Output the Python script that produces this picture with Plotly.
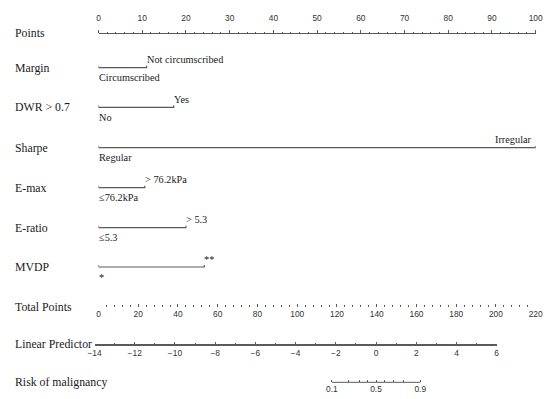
import math
import plotly.graph_objects as go

# ---------------- data ----------------
row_labels = ["Points", "Margin", "DWR > 0.7", "Sharpe", "E-max", "E-ratio", "MVDP",
              "Total Points", "Linear Predictor", "Risk of malignancy"]
variables = ["Margin", "DWR > 0.7", "Sharpe", "E-max", "E-ratio", "MVDP"]
level_low = ["Circumscribed", "No", "Regular", "≤76.2kPa", "≤5.3", "*"]
level_high = ["Not circumscribed", "Yes", "Irregular", "> 76.2kPa", "> 5.3", "**"]
points_low = [0, 0, 0, 0, 0, 0]
points_high = [11, 17.2, 100, 10.6, 20, 24.2]

points_range = [0, 100]
total_points_range = [0, 220]
lp_range = [-14, 6]
risk_ticks = [0.1, 0.2, 0.3, 0.4, 0.5, 0.6, 0.7, 0.8, 0.9]
risk_labels = ["0.1", "", "", "", "0.5", "", "", "", "0.9"]

# ---------------- layout geometry (pixels) ----------------
W, H = 550, 399
row_y = [33, 67.7, 107.3, 147.7, 187.7, 227.7, 267, 306.7, 344.3, 382.3]
pts_dom = [98.5 / W, 535.7 / W]
lp_dom = [94.5 / W, 496.7 / W]

LINE = "#5a5a5a"
TXT = "#1a1a1a"
SERIF = "Liberation Serif"
SANS = "Liberation Sans"

fig = go.Figure()

# variable lines on the Points scale
for i, v in enumerate(variables):
    y = row_y[i + 1]
    lo, hi = points_low[i], points_high[i]
    fig.add_trace(go.Scatter(
        x=[lo, lo, hi, hi], y=[y - 2, y, y, y - 2], mode="lines",
        line=dict(color=LINE, width=1.2), xaxis="x", yaxis="y",
        hoverinfo="skip", showlegend=False, cliponaxis=False))

# invisible anchors so the extra axes render
fig.add_trace(go.Scatter(x=[total_points_range[0]], y=[row_y[7]], mode="markers",
                         marker=dict(opacity=0), xaxis="x2", yaxis="y",
                         hoverinfo="skip", showlegend=False))
fig.add_trace(go.Scatter(x=[lp_range[0]], y=[row_y[8]], mode="markers",
                         marker=dict(opacity=0), xaxis="x3", yaxis="y",
                         hoverinfo="skip", showlegend=False))

# risk line on the linear-predictor scale (logit)
risk_logit = [math.log(p / (1 - p)) for p in risk_ticks]
fig.add_trace(go.Scatter(x=[risk_logit[0], risk_logit[-1]], y=[row_y[9], row_y[9]],
                         mode="lines", line=dict(color=LINE, width=1),
                         xaxis="x4", yaxis="y", hoverinfo="skip", showlegend=False))

tickfont = dict(family=SANS, size=8.4, color="#333333")

def pos(y):
    return 1 - y / H

common = dict(automargin=False, showgrid=False, zeroline=False, tickcolor=LINE,
              tickwidth=1, tickfont=tickfont, fixedrange=True)

fig.update_layout(
    width=W, height=H, margin=dict(l=0, r=0, t=0, b=0, autoexpand=False),
    paper_bgcolor="white", plot_bgcolor="rgba(0,0,0,0)",
    showlegend=False, hovermode=False,
    yaxis=dict(domain=[0, 1], range=[H, 0], visible=False, fixedrange=True,
               automargin=False),
    xaxis=dict(domain=pts_dom, range=points_range, anchor="free", position=pos(row_y[0]),
               side="top", showline=True, linecolor=LINE, linewidth=1,
               ticks="outside", ticklen=3, tickmode="linear", tick0=0, dtick=10,
               ticklabelstandoff=6,
               minor=dict(ticks="outside", dtick=2, ticklen=1.5, tickcolor=LINE,
                          showgrid=False), **common),
    xaxis2=dict(domain=pts_dom, range=total_points_range, anchor="free",
                position=pos(row_y[7]), side="bottom", showline=False,
                ticks="inside", ticklen=2.5, tickmode="linear", tick0=0, dtick=20,
                ticklabelstandoff=1,
                minor=dict(ticks="inside", dtick=4, ticklen=1.5, tickcolor=LINE,
                           showgrid=False), **common),
    xaxis3=dict(domain=lp_dom, range=lp_range, anchor="free", position=pos(row_y[8]),
                side="bottom", showline=True, linecolor=LINE, linewidth=1.2,
                ticks="inside", ticklen=2.5, tickmode="linear", tick0=-14, dtick=2,
                minor=dict(ticks="inside", dtick=1, ticklen=1.5, tickcolor=LINE,
                           showgrid=False), **common),
    xaxis4=dict(domain=lp_dom, range=lp_range, anchor="free", position=pos(row_y[9]),
                side="bottom", showline=False, ticks="inside", ticklen=2.5,
                tickmode="array", tickvals=risk_logit, ticktext=risk_labels, **common),
)

# row labels
for lab, y in zip(row_labels, row_y):
    fig.add_annotation(x=13 / W, xref="paper", y=y, yref="y", text=lab,
                       showarrow=False, xanchor="left", yanchor="middle", yshift=0,
                       font=dict(family=SERIF, size=11.8, color=TXT))

# level labels
lvl_font = dict(family=SERIF, size=10.3, color=TXT)
for i in range(len(variables)):
    y = row_y[i + 1]
    fig.add_annotation(x=points_low[i], xref="x", y=y, yref="y", text=level_low[i],
                       showarrow=False, xanchor="left", yanchor="middle", yshift=-10,
                       xshift=-2, font=lvl_font)
    hi_anchor = "right" if points_high[i] >= points_range[1] else "left"
    fig.add_annotation(x=points_high[i], xref="x", y=y, yref="y", text=level_high[i],
                       showarrow=False, xanchor=hi_anchor, yanchor="middle", yshift=8,
                       xshift=-2, font=lvl_font)

fig.write_html("out.html",
               config={"displayModeBar": False, "staticPlot": True},
               post_script="document.body.style.margin='0';document.body.style.overflow='hidden';")
